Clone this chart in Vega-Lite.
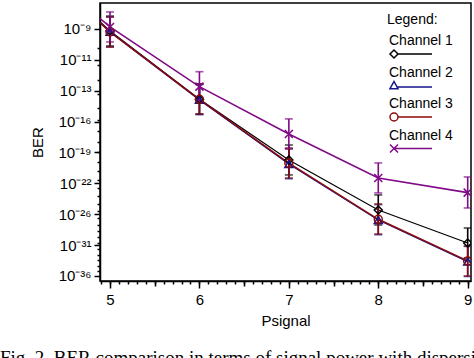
{
  "$schema": "https://vega.github.io/schema/vega-lite/v6.json",
  "width": 371,
  "height": 278,
  "autosize": "none",
  "padding": {"left": 100, "top": 3, "right": 3, "bottom": 77},
  "background": "white",
  "title": {
    "text": "Fig. 2.   BER   comparison in terms of signal power with dispersion in",
    "orient": "bottom",
    "anchor": "start",
    "frame": "group",
    "dx": -100,
    "offset": 21,
    "baseline": "top",
    "font": "Liberation Serif",
    "fontSize": 19,
    "fontWeight": "normal",
    "color": "#000"
  },
  "data": {
    "values": [
      {"ch": "Channel 1", "x": 4.5, "e": 7.263},
      {"ch": "Channel 1", "x": 5, "e": 9.10, "lo": 8.37, "hi": 9.90},
      {"ch": "Channel 1", "x": 6, "e": 13.35, "lo": 12.25, "hi": 14.50},
      {"ch": "Channel 1", "x": 7, "e": 18.77, "lo": 17.26, "hi": 20.42},
      {"ch": "Channel 1", "x": 8, "e": 24.86, "lo": 22.84, "hi": 27.04},
      {"ch": "Channel 1", "x": 9, "e": 29.91, "lo": 27.50, "hi": 32.53},
      {"ch": "Channel 2", "x": 4.5, "e": 7.263},
      {"ch": "Channel 2", "x": 5, "e": 9.15, "lo": 8.41, "hi": 9.96},
      {"ch": "Channel 2", "x": 6, "e": 13.40, "lo": 12.30, "hi": 14.56},
      {"ch": "Channel 2", "x": 7, "e": 19.20, "lo": 17.62, "hi": 20.86},
      {"ch": "Channel 2", "x": 8, "e": 26.30, "lo": 24.12, "hi": 28.56},
      {"ch": "Channel 2", "x": 9, "e": 33.20, "lo": 30.50, "hi": 36.10},
      {"ch": "Channel 3", "x": 4.5, "e": 7.263},
      {"ch": "Channel 3", "x": 5, "e": 9.15, "lo": 8.42, "hi": 9.96},
      {"ch": "Channel 3", "x": 6, "e": 13.36, "lo": 12.27, "hi": 14.52},
      {"ch": "Channel 3", "x": 7, "e": 19.12, "lo": 17.55, "hi": 20.77},
      {"ch": "Channel 3", "x": 8, "e": 26.19, "lo": 24.03, "hi": 28.44},
      {"ch": "Channel 3", "x": 9, "e": 33.09, "lo": 30.42, "hi": 36.00},
      {"ch": "Channel 4", "x": 4.5, "e": 7.19},
      {"ch": "Channel 4", "x": 5, "e": 8.90, "lo": 8.18, "hi": 9.68},
      {"ch": "Channel 4", "x": 6, "e": 12.44, "lo": 11.44, "hi": 13.54},
      {"ch": "Channel 4", "x": 7, "e": 16.23, "lo": 14.91, "hi": 17.65},
      {"ch": "Channel 4", "x": 8, "e": 20.77, "lo": 19.09, "hi": 22.59},
      {"ch": "Channel 4", "x": 9, "e": 22.55, "lo": 20.65, "hi": 24.58}
    ]
  },
  "layer": [
    {
      "mark": {"type": "line", "clip": true},
      "encoding": {
        "x": {"field": "x", "type": "quantitative",
          "scale": {"type": "linear", "domain": [4.888, 9.037], "nice": false, "zero": false},
          "axis": {"orient": "bottom", "values": [5.5, 6.5, 7.5, 8.5], "tickSize": 5, "labels": false, "domain": false, "title": null, "grid": false}},
        "y": {"field": "e", "type": "quantitative",
          "scale": {"type": "log", "domain": [7.78, 37.03], "reverse": true, "nice": false, "zero": false},
          "axis": {"orient": "left", "values": [10,11,12,13,14,15,16,17,18,19,20,21,22,23,24,25,26,27,28,29,30,31,32,33,34,35], "tickSize": 3, "labels": false, "domain": false, "title": null, "grid": false}},
        "color": {"field": "ch", "type": "nominal",
          "scale": {"domain": ["Channel 1", "Channel 2", "Channel 3", "Channel 4"], "range": ["#000000", "#14148c", "#8c0a0a", "#800a88"]},
          "legend": null},
        "strokeWidth": {"field": "ch", "type": "nominal",
          "scale": {"domain": ["Channel 1", "Channel 2", "Channel 3", "Channel 4"], "range": [1.2, 1.6, 2.2, 1.8]},
          "legend": null}
      }
    },
    {
      "transform": [{"filter": "datum.x >= 5"}],
      "mark": {"type": "errorbar", "ticks": true, "size": 8, "thickness": 1.6, "clip": true},
      "encoding": {
        "x": {"field": "x", "type": "quantitative",
          "scale": {"type": "linear", "domain": [4.888, 9.037], "nice": false, "zero": false}, "axis": null},
        "y": {"field": "lo", "type": "quantitative",
          "scale": {"type": "log", "domain": [7.78, 37.03], "reverse": true, "nice": false, "zero": false}, "axis": null},
        "y2": {"field": "hi"},
        "color": {"field": "ch", "type": "nominal",
          "scale": {"domain": ["Channel 1", "Channel 2", "Channel 3", "Channel 4"], "range": ["#000000", "#14148c", "#8c0a0a", "#800a88"]},
          "legend": null}
      }
    },
    {
      "mark": {"type": "point", "filled": false, "size": 64, "strokeWidth": 1.5, "opacity": 1, "clip": true},
      "encoding": {
        "x": {"field": "x", "type": "quantitative",
          "scale": {"type": "linear", "domain": [4.888, 9.037], "nice": false, "zero": false},
          "axis": {"orient": "bottom", "values": [5, 6, 7, 8, 9], "format": "d", "tickSize": 7, "title": "Psignal", "labelPadding": 4, "titlePadding": 6, "labelFontSize": 15, "titleFontSize": 15, "grid": false}},
        "y": {"field": "e", "type": "quantitative",
          "scale": {"type": "log", "domain": [7.78, 37.03], "reverse": true, "nice": false, "zero": false},
          "axis": {"orient": "left", "values": [9, 10.703, 12.728, 15.137, 18, 21.406, 25.456, 30.273, 36],
            "labelExpr": "datum.value < 9.5 ? '10⁻⁹' : datum.value < 11.5 ? '10⁻¹¹' : datum.value < 14 ? '10⁻¹³' : datum.value < 16.5 ? '10⁻¹⁶' : datum.value < 19.5 ? '10⁻¹⁹' : datum.value < 23 ? '10⁻²²' : datum.value < 28 ? '10⁻²⁶' : datum.value < 33 ? '10⁻³¹' : '10⁻³⁶'",
            "tickSize": 6, "title": "BER", "labelPadding": 3, "titlePadding": 12, "labelFontSize": 15, "titleFontSize": 15, "grid": false}},
        "color": {"field": "ch", "type": "nominal",
          "scale": {"domain": ["Channel 1", "Channel 2", "Channel 3", "Channel 4"], "range": ["#000000", "#14148c", "#8c0a0a", "#800a88"]},
          "legend": null},
        "shape": {"field": "ch", "type": "nominal",
          "scale": {"domain": ["Channel 1", "Channel 2", "Channel 3", "Channel 4"], "range": ["diamond", "triangle-up", "circle", "M-1,-1L1,1M1,-1L-1,1"]},
          "legend": null}
      }
    },
    {
      "transform": [{"filter": "datum.x > 100"}],
      "mark": {"type": "point", "filled": false, "size": 64, "strokeWidth": 1.5, "opacity": 1},
      "encoding": {
        "x": {"field": "x", "type": "quantitative",
          "scale": {"type": "linear", "domain": [4.888, 9.037], "nice": false, "zero": false},
          "axis": {"orient": "bottom", "values": [4.9,5.0,5.1,5.2,5.3,5.4,5.5,5.6,5.7,5.8,5.9,6.0,6.1,6.2,6.3,6.4,6.5,6.6,6.7,6.8,6.9,7.0,7.1,7.2,7.3,7.4,7.5,7.6,7.7,7.8,7.9,8.0,8.1,8.2,8.3,8.4,8.5,8.6,8.7,8.8,8.9,9.0], "tickSize": 3, "labels": false, "domain": false, "title": null, "grid": false}},
        "y": {"field": "e", "type": "quantitative",
          "scale": {"type": "log", "domain": [7.78, 37.03], "reverse": true, "nice": false, "zero": false}, "axis": null},
        "color": {"field": "ch", "type": "nominal",
          "scale": {"domain": ["Channel 1", "Channel 2", "Channel 3", "Channel 4"], "range": ["#000000", "#14148c", "#8c0a0a", "#800a88"]},
          "legend": {"title": "Legend:", "orient": "none", "legendX": 287, "legendY": 10, "padding": 0,
            "symbolSize": 64, "symbolStrokeWidth": 1.5, "labelOffset": -12, "labelFontSize": 14, "titleFontSize": 14,
            "titleFontWeight": "normal", "rowPadding": 4.5, "titlePadding": 20, "labelColor": "#000", "titleColor": "#000",
            "encoding": {"labels": {"dy": {"value": -13}}}}},
        "shape": {"field": "ch", "type": "nominal",
          "scale": {"domain": ["Channel 1", "Channel 2", "Channel 3", "Channel 4"],
            "range": ["M-1,0L0,-1L1,0L0,1ZM1,0L9.5,0", "M-1,0.8L0,-1L1,0.8ZM0.6,0.4L9.5,0.4", "M-1,0A1,1 0 1,0 1,0A1,1 0 1,0 -1,0ZM1,0L9.5,0", "M-1,-1L1,1M1,-1L-1,1M0,0L9.5,0"]},
          "legend": {"title": "Legend:", "orient": "none", "legendX": 287, "legendY": 10, "padding": 0,
            "symbolSize": 64, "symbolStrokeWidth": 1.5, "labelOffset": -12, "labelFontSize": 14, "titleFontSize": 14,
            "titleFontWeight": "normal", "rowPadding": 4.5, "titlePadding": 20, "labelColor": "#000", "titleColor": "#000",
            "encoding": {"labels": {"dy": {"value": -13}}}}}
      }
    }
  ],
  "resolve": {
    "axis": {"x": "independent", "y": "independent"},
    "scale": {"color": "independent", "shape": "independent"}
  },
  "config": {
    "font": "Liberation Sans",
    "view": {"stroke": "#000", "strokeWidth": 1.5},
    "axis": {"domainColor": "#000", "domainWidth": 1.5, "tickColor": "#000", "tickWidth": 1.5,
      "labelColor": "#000", "titleColor": "#000", "labelFont": "Liberation Sans", "titleFont": "Liberation Sans",
      "titleFontWeight": "normal"},
    "legend": {"labelFont": "Liberation Sans", "titleFont": "Liberation Sans"}
  }
}
